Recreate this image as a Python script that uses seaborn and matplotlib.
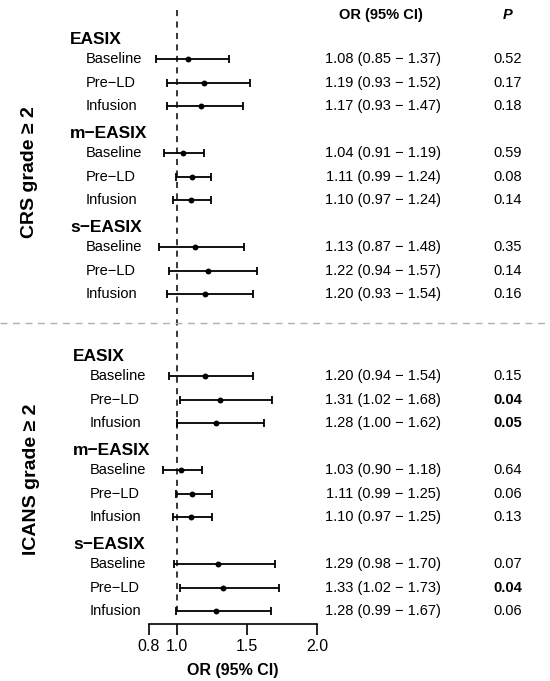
import numpy as np
import pandas as pd
import matplotlib
matplotlib.use("Agg")
from matplotlib import pyplot as plt
from matplotlib import transforms
import seaborn as sns

# dados do forest plot
outcomes = ["CRS grade \u2265 2", "ICANS grade \u2265 2"]
scores = ["EASIX", "m\u2212EASIX", "s\u2212EASIX"]
timepoints = ["Baseline", "Pre\u2212LD", "Infusion"]

crs_or = [1.08, 1.19, 1.17, 1.04, 1.11, 1.10, 1.13, 1.22, 1.20]
crs_lo = [0.85, 0.93, 0.93, 0.91, 0.99, 0.97, 0.87, 0.94, 0.93]
crs_hi = [1.37, 1.52, 1.47, 1.19, 1.24, 1.24, 1.48, 1.57, 1.54]
crs_p = ["0.52", "0.17", "0.18", "0.59", "0.08", "0.14", "0.35", "0.14", "0.16"]

icans_or = [1.20, 1.31, 1.28, 1.03, 1.11, 1.10, 1.29, 1.33, 1.28]
icans_lo = [0.94, 1.02, 1.00, 0.90, 0.99, 0.97, 0.98, 1.02, 0.99]
icans_hi = [1.54, 1.68, 1.62, 1.18, 1.25, 1.25, 1.70, 1.73, 1.67]
icans_p = ["0.15", "0.04", "0.05", "0.64", "0.06", "0.13", "0.07", "0.04", "0.06"]

xticks = [0.8, 1.0, 1.5, 2.0]

sns.set_style("white")
plt.rcParams['font.family'] = ['Liberation Sans', 'DejaVu Sans']
plt.rcParams['text.color'] = 'black'
plt.rcParams['axes.labelcolor'] = 'black'
plt.rcParams['xtick.color'] = 'black'
plt.rcParams['axes.edgecolor'] = 'black'

W, H = 550, 681
fig = plt.figure(figsize=(W / 100, H / 100), dpi=100)
# eixo so na area do grafico (0.8 a 2.0)
ax = fig.add_axes([149 / W, 1 - 624 / H, 168 / W, 619 / H])
ax.set_xlim(0.8, 2.0)
ax.set_ylim(25.04, -1.3)

# posicoes das linhas: cabecalho + 3 itens por score, com espaco entre desfechos
linhas = []
for k, (ors, los, his, ps) in enumerate([(crs_or, crs_lo, crs_hi, crs_p),
                                          (icans_or, icans_lo, icans_hi, icans_p)]):
    base = 0 if k == 0 else 13.5
    for s in range(3):
        for t in range(3):
            i = s * 3 + t
            linhas.append(dict(outcome=outcomes[k], score=scores[s], time=timepoints[t],
                               OR=ors[i], lo=los[i], hi=his[i], p=ps[i],
                               y=base + s * 4 + t + 1, head=base + s * 4, grp=k))
df = pd.DataFrame(linhas)

# intervalos de confianca
ax.errorbar(df["OR"], df["y"], xerr=[df["OR"] - df["lo"], df["hi"] - df["OR"]],
            fmt="none", ecolor="black", elinewidth=1.3, capsize=3, capthick=1.3, zorder=3)
sns.scatterplot(data=df, x="OR", y="y", color="black", s=18, edgecolor="black",
                linewidth=0, ax=ax, zorder=4, legend=False)

# linha de referencia OR = 1
ax.plot([1, 1], [-1.1, 24.75], color="black", lw=1.1, ls=(0, (4, 3.5)), zorder=2,
        clip_on=False)

# separador entre CRS e ICANS
trf = transforms.blended_transform_factory(fig.transFigure, ax.transData)
ax.plot([0, 1], [12.25, 12.25], transform=trf, color="#b0b0b0", lw=1.0,
        ls=(0, (5, 4)), clip_on=False)

# textos
fs = 10.5
for k in range(2):
    sub = df[df["grp"] == k]
    xh = 70 if k == 0 else 73
    xi = 86 if k == 0 else 90
    for s in scores:
        ss = sub[sub["score"] == s]
        ax.text(xh / W, ss["head"].iloc[0] + 0.17, s, transform=trf, fontsize=12.5,
                fontweight="bold", ha="left", va="center")
        for _, r in ss.iterrows():
            ax.text(xi / W, r["y"], r["time"], transform=trf, fontsize=fs,
                    ha="left", va="center")
            ax.text(383 / W, r["y"], f"{r['OR']:.2f} ({r['lo']:.2f} \u2212 {r['hi']:.2f})",
                    transform=trf, fontsize=fs, ha="center", va="center")
            bold = float(r["p"]) <= 0.05
            ax.text(508 / W, r["y"], r["p"], transform=trf, fontsize=fs, ha="center",
                    va="center", fontweight="bold" if bold else "normal")
    yc = 5.8 if k == 0 else 18.9
    xc = 30 if k == 0 else 32
    ax.text(xc / W, yc, outcomes[k], transform=trf, fontsize=14, fontweight="bold",
            rotation=90, ha="center", va="center")

ax.text(381 / W, -0.87, "OR (95% CI)", transform=trf, fontsize=fs, fontweight="bold",
        ha="center", va="center")
ax.text(508 / W, -0.87, "P", transform=trf, fontsize=fs, fontweight="bold",
        fontstyle="italic", ha="center", va="center")

# eixo x
for sp in ["top", "right", "left"]:
    ax.spines[sp].set_visible(False)
ax.spines["bottom"].set_linewidth(1.2)
ax.set_yticks([])
ax.set_xticks(xticks)
ax.set_xticklabels([f"{v:.1f}" for v in xticks], fontsize=11.5)
ax.tick_params(axis="x", direction="out", length=8, width=1.2, pad=3, bottom=True)
ax.set_xlabel("OR (95% CI)", fontsize=11.5, fontweight="bold", labelpad=6)
ax.set_ylabel("")

fig.savefig("out.png", dpi=100)
